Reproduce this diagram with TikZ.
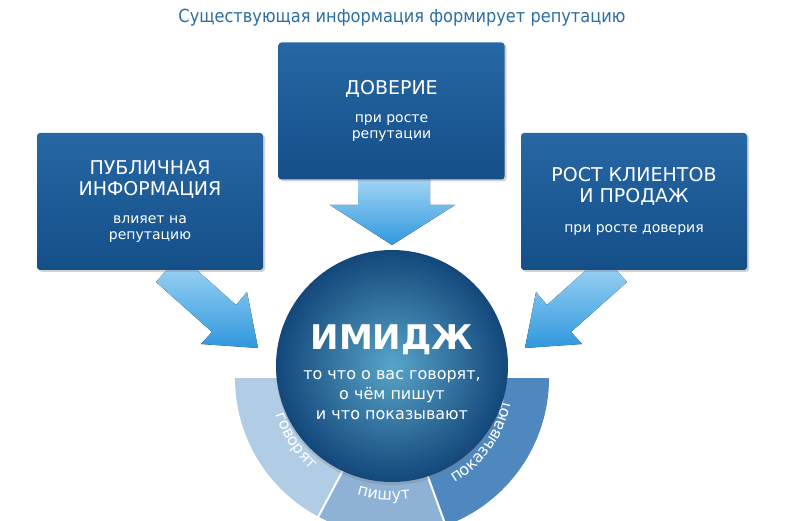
\documentclass[tikz,border=0pt]{standalone}
\usepackage{fontspec}
\setmainfont{DejaVu Sans}
\newfontfamily\condfont{DejaVu Sans Condensed}
\usetikzlibrary{positioning,calc,shadows,decorations.text}

\definecolor{boxtop}{HTML}{2667A4}
\definecolor{boxbot}{HTML}{154F88}
\definecolor{arrowlight}{HTML}{A8D8F6}
\definecolor{arrowdark}{HTML}{2F98DD}
\definecolor{titleblue}{HTML}{2A6EA6}
\definecolor{ringA}{HTML}{B0CDE5}
\definecolor{ringB}{HTML}{8DB2D6}
\definecolor{ringC}{HTML}{4F88BF}

\newcommand{\hd}{\fontsize{19}{24}\selectfont}
\newcommand{\sub}{\fontsize{14}{18}\selectfont}
\newcommand{\ringseg}[3]{%
  \fill[#3] ($(ringc)+(#1:157)$) arc[start angle=#1,end angle=#2,radius=157]
    -- ($(ringc)+(#2:100)$) arc[start angle=#2,end angle=#1,radius=100] -- cycle;}
\newcommand{\ringtext}[3]{%
  \path[decorate,decoration={text along path,text align=center,
    text={|\color{white}\fontsize{16}{16}\selectfont|#3}}]
    ($(ringc)+(#1:122)$) arc[start angle=#1,end angle=#2,radius=122];}

\begin{document}
\begin{tikzpicture}[x=1pt,y=1pt,align=center,text=white]

            \tikzstyle{infobox} = [rectangle, rounded corners=3pt, top color=boxtop,
                bottom color=boxbot, minimum width=226pt, minimum height=137pt,
                drop shadow={opacity=0.35,shadow xshift=2pt,shadow yshift=-2pt}]
            \tikzstyle{bigarrow} = [top color=arrowlight, bottom color=arrowdark]

            \useasboundingbox (0,0) rectangle (790,520);
            \fill[white] (0,0) rectangle (790,520);

            \node[text=titleblue, font=\condfont\fontsize{18}{20}\selectfont] (title) at (402,502)
                {Существующая информация формирует репутацию};

            % arrows
            \fill[bigarrow] (156,238) -- (212,188) -- (201,176) -- (258,172)
                -- (247,228) -- (236,215) -- (180,265) -- cycle;
            \fill[bigarrow] (627,238) -- (571,188) -- (582,176) -- (525,172)
                -- (536,228) -- (547,215) -- (603,265) -- cycle;
            \fill[bigarrow] (358,345) -- (358,315) -- (330,315) -- (392,275)
                -- (455,315) -- (430,315) -- (430,345) -- cycle;

            \node[infobox] (public) at (150,318.5)
                {\hd ПУБЛИЧНАЯ\\[5pt]\hd ИНФОРМАЦИЯ\\[16pt]
                 \sub влияет на\\[4pt]\sub репутацию};
            \node[infobox] (trust) at (391.5,409)
                {\hd ДОВЕРИЕ\\[16pt]
                 \sub при росте\\[4pt]\sub репутации};
            \node[infobox] (growth) at (634,318.5)
                {\hd РОСТ КЛИЕНТОВ\\[5pt]\hd И ПРОДАЖ\\[18pt]
                 \sub при росте доверия};

            % ring under the circle
            \coordinate (ringc) at (392,142);
            \ringseg{180}{242}{ringA}
            \ringseg{242}{290}{ringB}
            \ringseg{290}{360}{ringC}
            \draw[white, line width=2pt] ($(ringc)+(242:100)$) -- ($(ringc)+(242:158)$)
                ($(ringc)+(290:100)$) -- ($(ringc)+(290:158)$);
            \ringtext{186}{240}{говорят}
            \ringtext{243}{289}{пишут}
            \ringtext{291}{359}{показывают}

            \node[circle, minimum size=232pt, inner color=boxtop!70!white!85!cyan,
                outer color=boxbot!90!black,
                drop shadow={opacity=0.3,shadow xshift=0pt,shadow yshift=-3pt}] (image) at (392,154) {};
            \node[font=\bfseries\fontsize{34}{40}\selectfont] (imgtitle) at (392,180) {ИМИДЖ};
            \node[font=\fontsize{16}{20}\selectfont, below=8pt of imgtitle] (imgtext)
                {то что о вас говорят,\\о чём пишут\\и что показывают};
\end{tikzpicture}
\end{document}
